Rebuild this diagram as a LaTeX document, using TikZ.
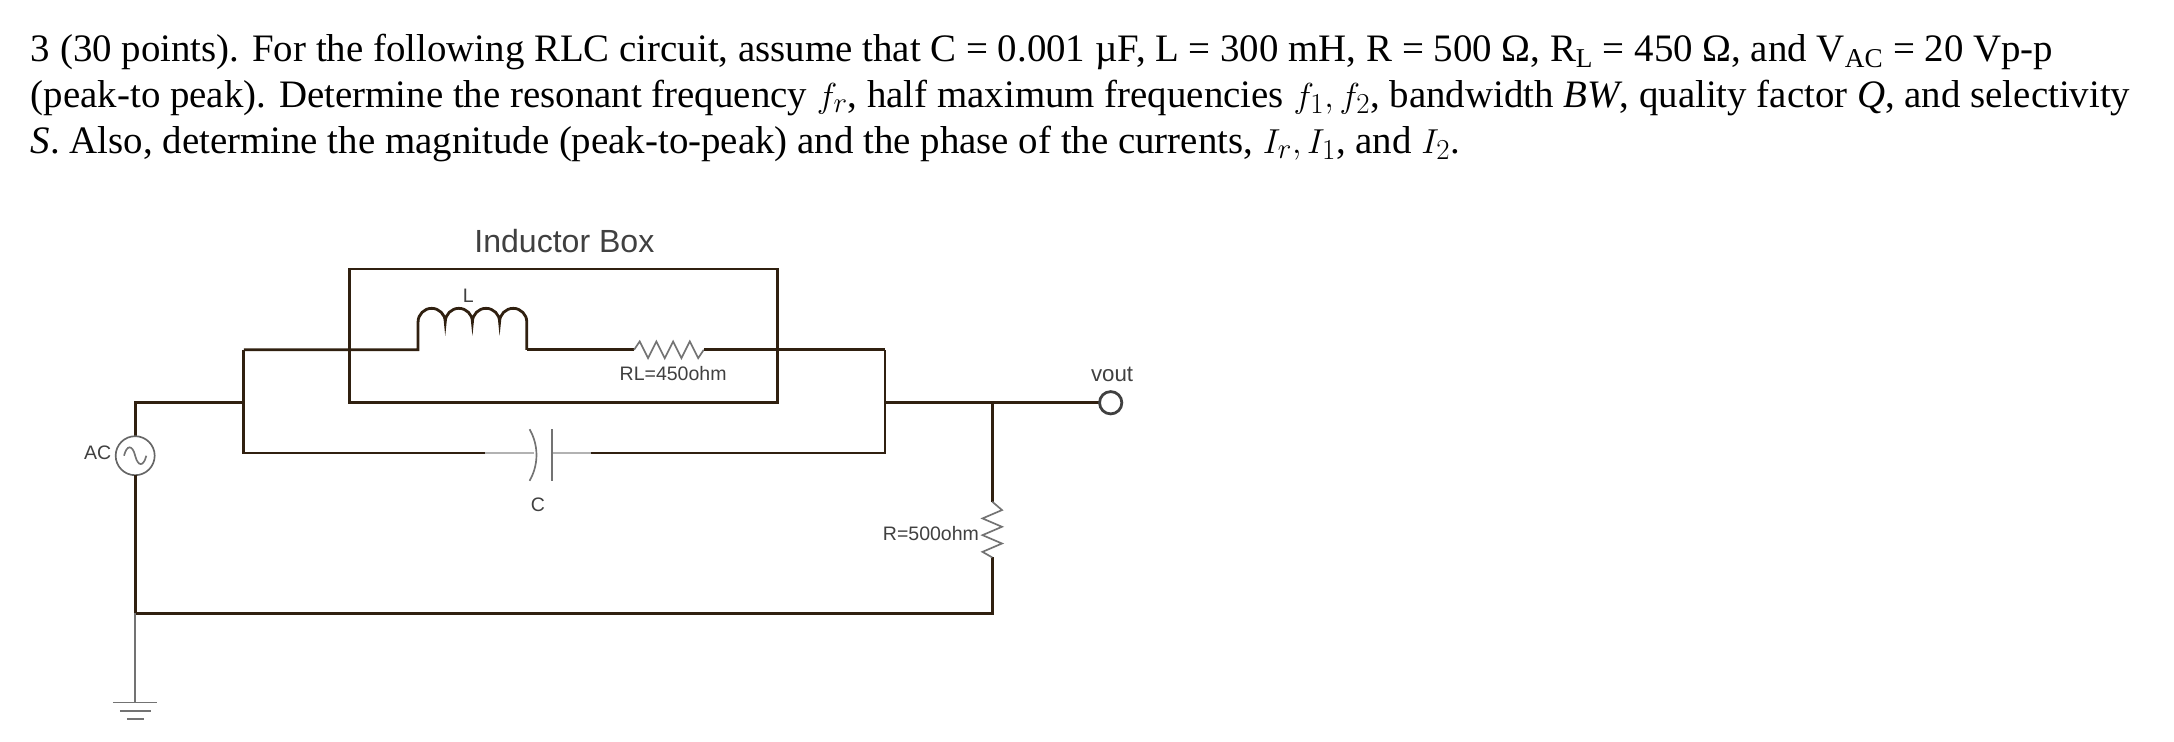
\documentclass[tikz,border=0pt]{standalone}
\usepackage{fontspec}
\setmainfont{Liberation Serif}
\newfontfamily\arialf{Liberation Sans}
\begin{document}
\begin{tikzpicture}[x=1pt,y=-1pt,
  wire/.style={draw=black!75!brown, line width=2pt},
  thin/.style={draw=black!55, line width=1.2pt},
  lbl/.style={font=\arialf\fontsize{14}{16}\selectfont, text=black!75, inner sep=0pt},
  qtext/.style={anchor=base west, inner sep=0pt, font=\fontsize{27.9}{30}\selectfont}]
\useasboundingbox (0,0) rectangle (1560,532);
% question text
\node[qtext] (t1) at (22,44) {3 (30 points). For the following RLC circuit, assume that C = 0.001 µF, L = 300 mH, R = 500 Ω, R\textsubscript{L} = 450 Ω, and V\textsubscript{AC} = 20 Vp-p};
\node[qtext] (t2) at (22,77) {(peak-to peak). Determine the resonant frequency $f_r$, half maximum frequencies $f_1, f_2$, bandwidth \textit{BW}, quality factor \textit{Q}, and selectivity};
\node[qtext] (t3) at (22,110) {\textit{S}. Also, determine the magnitude (peak-to-peak) and the phase of the currents, $I_r, I_1$, and $I_2$.};
% inductor box
\node[font=\arialf\fontsize{23}{26}\selectfont, text=black!75] (ib) at (405,173) {Inductor Box};
\draw[wire] (251,193) rectangle (558,289);
% coordinates
\coordinate (tl) at (175,251); \coordinate (tr) at (635,251);
\coordinate (bl) at (175,325); \coordinate (br) at (635,325);
\coordinate (nl) at (97,289);  \coordinate (nr) at (712,289);
\coordinate (ltop) at (300,251); \coordinate (lend) at (378,251);
% top branch: inductor + RL
\draw[wire] (tl) -- (ltop) -- ++(0,-20)
  arc[start angle=180,end angle=360,radius=9.75]
  arc[start angle=180,end angle=360,radius=9.75]
  arc[start angle=180,end angle=360,radius=9.75]
  arc[start angle=180,end angle=360,radius=9.75] -- (lend);
\draw[wire] (lend) -- (455,251);
\draw[thin] (455,251) -- (459,245) -- (465,257) -- (471,245) -- (477,257) -- (483,245) -- (489,257) -- (495,245) -- (501,257) -- (505,251);
\draw[wire] (505,251) -- (tr);
\node[lbl] (lL) at (336,212) {L};
\node[lbl] (lRL) at (483,268) {RL=450ohm};
% bottom branch: capacitor
\draw[wire] (tl) -- (bl) -- (348,325);
\draw[thin, black!30] (348,325) -- (383,325) (396,325) -- (424,325);
\draw[thin] (380,308) arc[start angle=-30,end angle=30,radius=37] ;
\draw[thin] (396,308) -- (396,345);
\draw[wire] (424,325) -- (br) -- (tr);
\node[lbl] (lC) at (386,362) {C};
% node to output
\draw[wire] (br) ++(0,-36) -- (635,289) -- (nr) -- (789,289);
\node[draw=black!75, line width=2pt, circle, minimum size=16pt, inner sep=0pt] (vout) at (797,289) {};
\node[lbl, font=\arialf\fontsize{16}{18}\selectfont] (lvo) at (798,269) {vout};
% source side
\draw[wire] (tl) ++(0,38) -- (nl) -- (97,313);
\node[draw=black!60, line width=1.2pt, circle, minimum size=28pt, inner sep=0pt] (ac) at (97,327) {};
\draw[thin] (89,327) .. controls (91,319) and (95,319) .. (97,327) .. controls (99,335) and (103,335) .. (105,327);
\node[lbl] (lac) at (70,325) {AC};
\draw[wire] (97,341) -- (97,440) -- (712,440) -- (712,400);
\draw[thin] (97,440) -- (97,504);
% R
\draw[wire] (nr) -- (712,360);
\draw[thin] (712,360) -- (719,366) -- (705,372) -- (719,378) -- (705,384) -- (719,390) -- (705,396) -- (712,400);
\node[lbl] (lR) at (668,383) {R=500ohm};
% ground
\draw[thin] (81,504) -- (113,504) (86,510) -- (108,510) (91,516) -- (103,516);
\end{tikzpicture}
\end{document}
